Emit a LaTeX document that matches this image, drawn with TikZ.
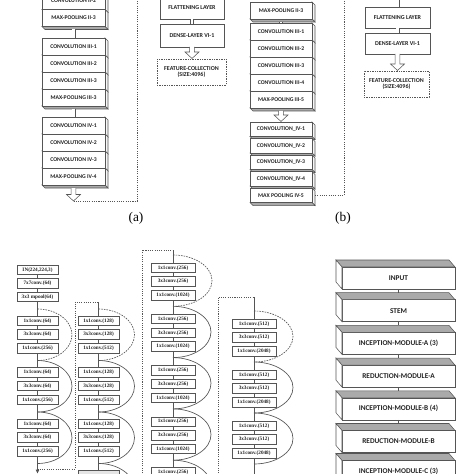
\documentclass[tikz,border=0pt]{standalone}
\usepackage{fontspec}
\setmainfont{Liberation Serif}
\newfontfamily\carlito{Carlito}
\usetikzlibrary{calc,backgrounds,arrows.meta}

\definecolor{edgegray}{RGB}{85,85,85}
\definecolor{facegray}{RGB}{170,170,170}
\definecolor{inkgray}{RGB}{35,35,35}

\tikzset{every picture/.style={line width=0.4pt}}
\tikzset{
  vgglayer/.style={draw=edgegray, fill=white, inner sep=0pt, outer sep=0pt, text=inkgray, minimum width=47.25pt, minimum height=12.75pt, font=\carlito\bfseries\fontsize{4.3}{4.8}\selectfont},
  vggthin/.style={vgglayer, minimum width=46.5pt, minimum height=10.9pt},
  denselayer/.style={vgglayer, minimum width=48pt, minimum height=17.25pt, font=\carlito\bfseries\fontsize{4.5}{5.2}\selectfont},
  featurebox/.style={denselayer, dash pattern=on 1pt off 0.8pt, minimum width=51.75pt, minimum height=19.5pt, align=center},
  pipe/.style={draw=edgegray, double=white, double distance=2.2pt, line width=0.4pt},
  route/.style={draw=edgegray, dash pattern=on 0.8pt off 0.9pt},
  resbox/.style={draw=edgegray, line width=0.6pt, fill=white, inner sep=0pt, outer sep=0pt, minimum width=30.75pt, minimum height=7.1pt, text=inkgray, font=\bfseries\fontsize{3.9}{4}\selectfont},
  reswide/.style={resbox, minimum width=33pt},
  trunk/.style={draw=edgegray, line width=0.6pt},
  shortcut/.style={draw=edgegray, line width=0.5pt},
  projection/.style={shortcut, dash pattern=on 1.2pt off 0.8pt},
  incblock/.style={draw=edgegray, fill=white, inner sep=0pt, outer sep=0pt, minimum width=84.75pt, minimum height=16.5pt, text=inkgray, font=\carlito\bfseries\fontsize{5.5}{6}\selectfont},
}

% side and bottom faces of a VGG layer
\newcommand{\slabfaces}[1]{%
  \draw[draw=edgegray, fill=gray!6] (#1.north east) -- ++(3,3) -- ($(#1.south east)+(3,3)$) -- (#1.south east) -- cycle;
  \draw[draw=edgegray, fill=facegray] (#1.south west) -- ++(3,3) -- ($(#1.south east)+(3,3)$) -- (#1.south east) -- cycle;}
% top and left faces of an Inception block
\newcommand{\blockfaces}[1]{%
  \draw[draw=edgegray, fill=facegray] (#1.north west) -- ++(-6,-7) -- ($(#1.north east)+(-6,-7)$) -- (#1.north east) -- cycle;
  \draw[draw=edgegray, fill=white] (#1.north west) -- ++(-6,-7) -- ($(#1.south west)+(-6,-7)$) -- (#1.south west) -- cycle;}
% outlined arrow: node, gap below node, tip
\newcommand{\hollowarrow}[3]{%
  \draw[draw=edgegray, fill=white] ($(#1.south)+(-2.3,#2)$) -- ($(#3)+(-2.3,-6.5)$) -- ($(#3)+(-7,-6.5)$) -- (#3) -- ($(#3)+(7,-6.5)$) -- ($(#3)+(2.3,-6.5)$) -- ($(#1.south)+(2.3,#2)$);}

\begin{document}
\begin{tikzpicture}[x=0.75pt,y=0.75pt,yscale=-1,xscale=1]
\useasboundingbox (0,0) rectangle (474,474);
\clip (0,0) rectangle (474,474);

% ---------------- (a) VGG16 ----------------
% Stages II to IV
\node[vgglayer] (a22) at (73.5,1) {CONVOLUTION II-2};
\node[vgglayer] (a23) at (73.5,18) {MAX-POOLING II-3};
\node[vgglayer] (a31) at (73.5,46.5) {CONVOLUTION III-1};
\node[vgglayer] (a32) at (73.5,63.5) {CONVOLUTION III-2};
\node[vgglayer] (a33) at (73.5,80.5) {CONVOLUTION III-3};
\node[vgglayer] (a34) at (73.5,97.5) {MAX-POOLING III-3};
\node[vgglayer] (a41) at (73.5,125.5) {CONVOLUTION IV-1};
\node[vgglayer] (a42) at (73.5,142.5) {CONVOLUTION IV-2};
\node[vgglayer] (a43) at (73.5,159.5) {CONVOLUTION IV-3};
\node[vgglayer] (a44) at (73.5,176.5) {MAX-POOLING IV-4};
\coordinate (aend) at (73.5,201);
\coordinate (atop) at (137.5,-2);
% Dense part
\node[denselayer] (aflat) at (192,7.5) {FLATTENING LAYER};
\node[denselayer] (adense) at (192,35.5) {DENSE-LAYER VI-1};
\coordinate (afeattop) at (192,58.5);
\node[featurebox] (afeat) at (191.5,72) {FEATURE-COLLECTION\\(SIZE:4096)};
% Label
\node[font=\fontsize{10}{12}\selectfont] (alabel) at (136,218) {(a)};

% ---------------- (b) VGG19 ----------------
% Stages II to IV
\node[vgglayer, minimum width=46.5pt] (b23) at (281,10.5) {MAX-POOLING II-3};
\node[vgglayer, minimum width=46.5pt] (b31) at (281,31.5) {CONVOLUTION III-1};
\node[vgglayer, minimum width=46.5pt] (b32) at (281,48.5) {CONVOLUTION III-2};
\node[vgglayer, minimum width=46.5pt] (b33) at (281,65.5) {CONVOLUTION III-3};
\node[vgglayer, minimum width=46.5pt] (b34) at (281,82.5) {CONVOLUTION III-4};
\node[vgglayer, minimum width=46.5pt] (b35) at (281,99.5) {MAX-POOLING III-5};
\coordinate (bmid) at (281,121.5);
\node[vggthin] (b41) at (281,129.25) {CONVOLUTION\_IV-1};
\node[vggthin] (b42) at (281,145.75) {CONVOLUTION\_IV-2};
\node[vggthin] (b43) at (281,162.25) {CONVOLUTION\_IV-3};
\node[vggthin] (b44) at (281,178.75) {CONVOLUTION\_IV-4};
\node[vggthin] (b45) at (281,195.25) {MAX POOLING IV-5};
\coordinate (btop) at (344,-2);
% Dense part
\coordinate (bin) at (397.5,-2);
\node[denselayer, minimum width=48.75pt, minimum height=15.75pt] (bflat) at (397.5,17.5) {FLATTENING LAYER};
\node[denselayer, minimum width=48.75pt, minimum height=15.75pt] (bdense) at (397.5,43.5) {DENSE-LAYER VI-1};
\coordinate (bfeattop) at (397.5,70.5);
\node[featurebox, minimum width=48.75pt] (bfeat) at (396.5,84) {FEATURE-COLLECTION\\(SIZE:4096)};
% Label
\node[font=\fontsize{10}{12}\selectfont] (blabel) at (343,218) {(b)};

% ---------------- ResNet-50 ----------------
% conv1 and conv2_x
\node[resbox] (cv2in) at (37.5,269.75) {IN(224,224,3)};
\node[resbox] (cv2c7) at (37.5,283.25) {7x7conv.(64)};
\node[resbox] (cv2mp) at (37.5,296.75) {3x3 mpool(64)};
\node[resbox] (cv2a1) at (37.5,320.75) {1x1conv.(64)};
\node[resbox] (cv2a2) at (37.5,334.5) {3x3conv.(64)};
\node[resbox] (cv2a3) at (37.5,348.25) {1x1conv.(256)};
\node[resbox] (cv2b1) at (37.5,372.25) {1x1conv.(64)};
\node[resbox] (cv2b2) at (37.5,386) {3x3conv.(64)};
\node[resbox] (cv2b3) at (37.5,399.75) {1x1conv.(256)};
\node[resbox] (cv2c1) at (37.5,423.75) {1x1conv.(64)};
\node[resbox] (cv2c2) at (37.5,437.5) {3x3conv.(64)};
\node[resbox] (cv2c3) at (37.5,451.25) {1x1conv.(256)};
\coordinate (j2a) at (37.5,309);
\coordinate (j2b) at (37.5,360.5);
\coordinate (j2c) at (37.5,412);
\coordinate (c2end) at (37.5,469);
\coordinate (c2tip) at (37.5,473.5);
\coordinate (c23) at (75,302);
% conv3_x
\coordinate (c3top) at (98.5,302);
\coordinate (c3bot) at (98.5,480);
\node[resbox] (cv3a1) at (98.5,320.75) {1x1conv.(128)};
\node[resbox] (cv3a2) at (98.5,334.5) {3x3conv.(128)};
\node[resbox] (cv3a3) at (98.5,348.25) {1x1conv.(512)};
\node[resbox] (cv3b1) at (98.5,372.25) {1x1conv.(128)};
\node[resbox] (cv3b2) at (98.5,386) {3x3conv.(128)};
\node[resbox] (cv3b3) at (98.5,399.75) {1x1conv.(512)};
\node[resbox] (cv3c1) at (98.5,423.75) {1x1conv.(128)};
\node[resbox] (cv3c2) at (98.5,437.5) {3x3conv.(128)};
\node[resbox] (cv3c3) at (98.5,451.25) {1x1conv.(512)};
\node[resbox, fill=gray!20] (cv3d1) at (98.5,475.25) {};
\coordinate (j3a) at (98.5,309);
\coordinate (j3b) at (98.5,360.5);
\coordinate (j3c) at (98.5,412);
\coordinate (j3d) at (98.5,463.5);
\coordinate (c34) at (142,480);
% conv4_x
\coordinate (c4top) at (173,250);
\coordinate (c4bot) at (173,480);
\node[reswide] (cv4a1) at (173,267.75) {1x1conv.(256)};
\node[reswide] (cv4a2) at (173,281.5) {3x3conv.(256)};
\node[reswide] (cv4a3) at (173,295.25) {1x1conv.(1024)};
\node[reswide] (cv4b1) at (173,319.05) {1x1conv.(256)};
\node[reswide] (cv4b2) at (173,332.8) {3x3conv.(256)};
\node[reswide] (cv4b3) at (173,346.55) {1x1conv.(1024)};
\node[reswide] (cv4c1) at (173,370.35) {1x1conv.(256)};
\node[reswide] (cv4c2) at (173,384.1) {3x3conv.(256)};
\node[reswide] (cv4c3) at (173,397.85) {1x1conv.(1024)};
\node[reswide] (cv4d1) at (173,421.65) {1x1conv.(256)};
\node[reswide] (cv4d2) at (173,435.4) {3x3conv.(256)};
\node[reswide] (cv4d3) at (173,449.15) {1x1conv.(1024)};
\node[reswide] (cv4e1) at (173,472.5) {1x1conv.(256)};
\coordinate (j4a) at (173,255);
\coordinate (j4b) at (173,306.3);
\coordinate (j4c) at (173,357.6);
\coordinate (j4d) at (173,408.9);
\coordinate (j4e) at (173,460.2);
\coordinate (c45) at (218,480);
% conv5_x
\coordinate (c5top) at (254,297);
\coordinate (c5bot) at (254,480);
\node[reswide] (cv5a1) at (254,323.75) {1x1conv.(512)};
\node[reswide] (cv5a2) at (254,337.5) {3x3conv.(512)};
\node[reswide] (cv5a3) at (254,351.25) {1x1conv.(2048)};
\node[reswide] (cv5b1) at (254,374.75) {1x1conv.(512)};
\node[reswide] (cv5b2) at (254,388.5) {3x3conv.(512)};
\node[reswide] (cv5b3) at (254,402.25) {1x1conv.(2048)};
\node[reswide] (cv5c1) at (254,425.75) {1x1conv.(512)};
\node[reswide] (cv5c2) at (254,439.5) {3x3conv.(512)};
\node[reswide] (cv5c3) at (254,453.25) {1x1conv.(2048)};
\coordinate (j5a) at (254,311);
\coordinate (j5b) at (254,362);
\coordinate (j5c) at (254,413);

% ---------------- Inception-v4 ----------------
\node[incblock] (iinput) at (398.5,278) {INPUT};
\node[incblock] (istem) at (398.5,310.7) {STEM};
\node[incblock] (iinca) at (398.5,343.4) {INCEPTION-MODULE-A (3)};
\node[incblock] (ireda) at (398.5,376.1) {REDUCTION-MODULE-A};
\node[incblock] (iincb) at (398.5,408.8) {INCEPTION-MODULE-B (4)};
\node[incblock] (iredb) at (398.5,441.5) {REDUCTION-MODULE-B};
\node[incblock] (iincc) at (398.5,471.5) {INCEPTION-MODULE-C (3)};
\blockfaces{iinput}
\blockfaces{istem}
\blockfaces{iinca}
\blockfaces{ireda}
\blockfaces{iincb}
\blockfaces{iredb}
\blockfaces{iincc}
\draw[trunk] (iinput.south) -- ($(istem.north)+(0,-7)$);
\draw[trunk] (istem.south) -- ($(iinca.north)+(0,-7)$);
\draw[trunk] (iinca.south) -- ($(ireda.north)+(0,-7)$);
\draw[trunk] (ireda.south) -- ($(iincb.north)+(0,-7)$);
\draw[trunk] (iincb.south) -- ($(iredb.north)+(0,-7)$);
\draw[trunk] (iredb.south) -- ($(iincc.north)+(0,-7)$);

% ---------------- behind the boxes ----------------
\begin{pgfonlayer}{background}
% VGG faces
\slabfaces{a22} \slabfaces{a23}
\slabfaces{a31} \slabfaces{a32} \slabfaces{a33} \slabfaces{a34}
\slabfaces{a41} \slabfaces{a42} \slabfaces{a43} \slabfaces{a44}
\slabfaces{b23}
\slabfaces{b31} \slabfaces{b32} \slabfaces{b33} \slabfaces{b34} \slabfaces{b35}
\slabfaces{b41} \slabfaces{b42} \slabfaces{b43} \slabfaces{b44} \slabfaces{b45}
% ResNet trunks
\draw[trunk, -{Triangle[length=3pt, width=2.6pt]}] (cv2in.south) -- (c2tip);
\draw[trunk] (c3top) -- (c3bot);
\draw[trunk] (c4top) -- (c4bot);
\draw[trunk] (c5top) -- (c5bot);
% ResNet shortcuts
\draw[projection] (j2a) arc[start angle=-90, end angle=90, x radius=34.5, y radius=25.75];
\draw[shortcut] (j2b) arc[start angle=-90, end angle=90, x radius=34.5, y radius=25.75];
\draw[shortcut] (j2c) arc[start angle=-90, end angle=90, x radius=34.5, y radius=25.75];
\draw[projection] (j3a) arc[start angle=-90, end angle=90, x radius=36, y radius=25.75];
\draw[shortcut] (j3b) arc[start angle=-90, end angle=90, x radius=36, y radius=25.75];
\draw[shortcut] (j3c) arc[start angle=-90, end angle=90, x radius=36, y radius=25.75];
\draw[shortcut] (j3d) arc[start angle=-90, end angle=90, x radius=36, y radius=25.75];
\draw[projection] (j4a) arc[start angle=-90, end angle=90, x radius=39, y radius=25.65];
\draw[shortcut] (j4b) arc[start angle=-90, end angle=90, x radius=38, y radius=25.65];
\draw[shortcut] (j4c) arc[start angle=-90, end angle=90, x radius=38, y radius=25.65];
\draw[shortcut] (j4d) arc[start angle=-90, end angle=90, x radius=38, y radius=25.65];
\draw[shortcut] (j4e) arc[start angle=-90, end angle=90, x radius=38, y radius=25.65];
\draw[projection] (j5a) arc[start angle=-90, end angle=90, x radius=39, y radius=25.5];
\draw[shortcut] (j5b) arc[start angle=-90, end angle=90, x radius=39, y radius=25.5];
\draw[shortcut] (j5c) arc[start angle=-90, end angle=90, x radius=39, y radius=25.5];
\end{pgfonlayer}

% ---------------- connectors ----------------
\draw[pipe] ($(a23.south)+(0,3)$) -- (a31.north);
\draw[pipe] ($(a34.south)+(0,3)$) -- (a41.north);
\hollowarrow{a44}{3}{aend}
\draw[route] (aend) -| (atop);
\draw[pipe] (aflat.south) -- (adense.north);
\hollowarrow{adense}{0}{afeattop}

\draw[pipe] ($(b23.south)+(0,3)$) -- (b31.north);
\hollowarrow{b35}{3}{bmid}
\draw[route] ($(b45.east)+(3,0)$) -| (btop);
\draw[pipe] (bin) -- (bflat.north);
\draw[pipe] (bflat.south) -- (bdense.north);
\hollowarrow{bdense}{0}{bfeattop}

\draw[route] (c2end) -| (c23) -- (c3top);
\draw[route] (c34) |- (c4top);
\draw[route] (c45) |- (c5top);

\end{tikzpicture}
\end{document}
